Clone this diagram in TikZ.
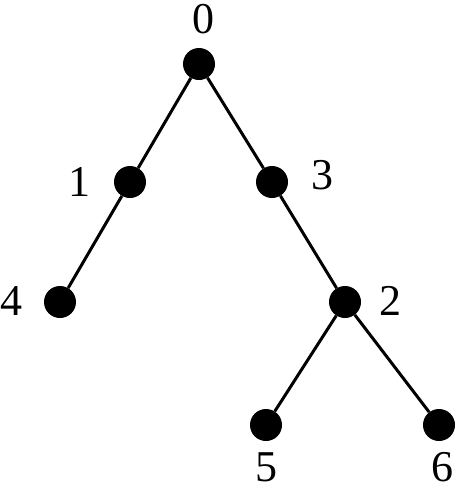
\documentclass[tikz,border=0pt]{standalone}
\usepackage{fontspec}
\setmainfont{Liberation Serif}
\begin{document}
\begin{tikzpicture}[x=1pt,y=-1pt,
  dot/.style={circle,fill=black,inner sep=0pt,minimum size=32pt},
  lbl/.style={inner sep=0pt,font=\fontsize{44}{50}\selectfont},
  edge/.style={line width=3pt}]
\useasboundingbox (0,0) rectangle (456,493);
\node[dot] (n0) at (199,64) {};
\node[dot] (n1) at (130,182) {};
\node[dot] (n3) at (272,182) {};
\node[dot] (n4) at (60,302) {};
\node[dot] (n2) at (345,302) {};
\node[dot] (n5) at (266,425) {};
\node[dot] (n6) at (439,425) {};
\draw[edge] (n0) -- (n1);
\draw[edge] (n0) -- (n3);
\draw[edge] (n1) -- (n4);
\draw[edge] (n3) -- (n2);
\draw[edge] (n2) -- (n5);
\draw[edge] (n2) -- (n6);
\node[lbl] (l0) at (203,19) {0};
\node[lbl] (l1) at (79,182) {1};
\node[lbl] (l3) at (322,175) {3};
\node[lbl] (l4) at (12,301) {4};
\node[lbl] (l2) at (390,301) {2};
\node[lbl] (l5) at (266,467) {5};
\node[lbl] (l6) at (442,467) {6};
\end{tikzpicture}
\end{document}
